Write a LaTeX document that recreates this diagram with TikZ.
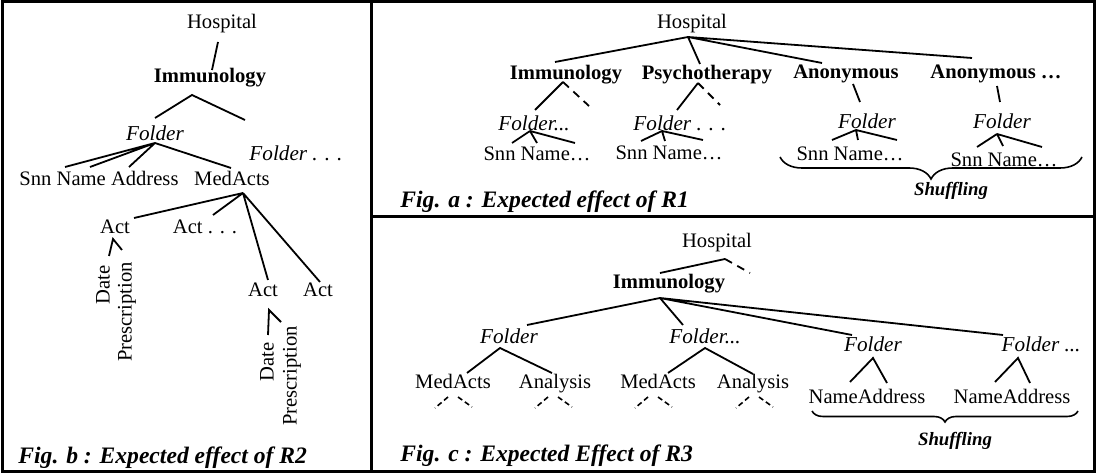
\documentclass[tikz,border=0pt]{standalone}
\usepackage{fontspec}
\setmainfont{Liberation Serif}
\usetikzlibrary{decorations.pathreplacing}
\begin{document}
\begin{tikzpicture}[x=0.5pt,y=-0.5pt,
  every node/.style={font=\fontsize{10.3}{12}\selectfont, inner sep=0pt, anchor=base},
  bld/.style={font=\fontsize{10.3}{12}\selectfont\bfseries},
  itl/.style={font=\fontsize{10.6}{12}\selectfont\itshape},
  figcap/.style={font=\fontsize{11.8}{14}\selectfont\bfseries\itshape, anchor=west},
  shuf/.style={font=\fontsize{9.4}{12}\selectfont\bfseries\itshape},
  edge/.style={line width=0.9pt},
  dedge/.style={line width=0.9pt, dash pattern=on 4pt off 3pt},
  tick/.style={line width=0.8pt, dash pattern=on 2.6pt off 1.6pt},
  frame/.style={line width=1.5pt},
  brc/.style={line width=0.8pt, decorate, decoration={brace, mirror, amplitude=#1}},
  vtext/.style={rotate=90, anchor=center}
]
\useasboundingbox (0,0) rectangle (1096,474);
% frames
\draw[frame] (2,2) rectangle (1094,472);
\coordinate (vt) at (371,2); \coordinate (vb) at (371,472);
\draw[frame] (vt) -- (vb);
\coordinate (hl) at (371,217); \coordinate (hr) at (1094,217);
\draw[frame] (hl) -- (hr);

% ================= Fig. b =================
\node (hb) at (222,29) {Hospital};
\node[bld] (ib) at (210,83) {Immunology};
\node[itl] (fb) at (155,141) {Folder};
\node[itl] (fdb) at (296,161) {Folder . . .};
\node (snb) at (99,186) {Snn Name Address};
\node (mab) at (232,186) {MedActs};
\node (a1) at (115,234) {Act};
\node (a2) at (205,234) {Act . . .};
\node (a3) at (263,297) {Act};
\node (a4) at (318,297) {Act};
\node[vtext] (d1) at (103,285) {Date};
\node[vtext] (p1) at (127,312) {Prescription};
\node[vtext] (d2) at (267,362) {Date};
\node[vtext] (p2) at (292,376) {Prescription};
\node[figcap] (capb) at (18,458) {Fig. b : Expected effect of R2};

\coordinate (hbB) at (218,42); \coordinate (ibT) at (212,70);
\draw[edge] (hbB) -- (ibT);
\coordinate (ibA) at (192,95); \coordinate (ibL) at (155,118); \coordinate (ibR) at (245,120);
\draw[edge] (ibL) -- (ibA) -- (ibR);
\coordinate (fbA) at (155,143);
\coordinate (fbE1) at (65,167); \coordinate (fbE2) at (90,167);
\coordinate (fbE3) at (129,167); \coordinate (fbE4) at (231,168);
\draw[edge] (fbA) -- (fbE1) (fbA) -- (fbE2) (fbA) -- (fbE3) (fbA) -- (fbE4);
\coordinate (maA) at (243,193);
\coordinate (maE1) at (134,218); \coordinate (maE2) at (213,215);
\coordinate (maE3) at (268,280); \coordinate (maE4) at (320,282);
\draw[edge] (maA) -- (maE1) (maA) -- (maE2) (maA) -- (maE3) (maA) -- (maE4);
\coordinate (c1a) at (109,256); \coordinate (c1b) at (113,239); \coordinate (c1c) at (122,250);
\draw[edge] (c1a) -- (c1b) -- (c1c);
\coordinate (c2a) at (268,335); \coordinate (c2b) at (269,310); \coordinate (c2c) at (281,322);
\draw[edge] (c2a) -- (c2b) -- (c2c);

% ================= Fig. a =================
\node (ha) at (692,29) {Hospital};
\node[bld] (ia1) at (566,80) {Immunology};
\node[bld] (ps) at (707,80) {Psychotherapy};
\node[bld] (an1) at (846,79) {Anonymous};
\node[bld] (an2) at (996,79) {Anonymous …};
\node[itl] (fa1) at (534,131) {Folder...};
\node[itl] (fa2) at (680,131) {Folder . . .};
\node[itl] (fa3) at (867,129) {Folder};
\node[itl] (fa4) at (1002,129) {Folder};
\node (sa1) at (537,161) {Snn Name…};
\node (sa2) at (669,160) {Snn Name…};
\node (sa3) at (850,161) {Snn Name…};
\node (sa4) at (1004,167) {Snn Name…};
\node[shuf] (sh1) at (951,196) {Shuffling};
\node[figcap] (capa) at (400,202) {Fig. a : Expected effect of R1};

\coordinate (haA) at (688,37);
\coordinate (haE1) at (555,62); \coordinate (haE2) at (700,64);
\coordinate (haE3) at (822,63); \coordinate (haE4) at (972,58);
\draw[edge] (haA) -- (haE1) (haA) -- (haE2) (haA) -- (haE3) (haA) -- (haE4);
\coordinate (iaA) at (563,82); \coordinate (iaL) at (535,110); \coordinate (iaR) at (589,106);
\draw[edge] (iaA) -- (iaL); \draw[dedge] (iaA) -- (iaR);
\coordinate (psA) at (698,83); \coordinate (psL) at (677,110); \coordinate (psR) at (720,105);
\draw[edge] (psA) -- (psL); \draw[dedge] (psA) -- (psR);
\coordinate (fa1A) at (530,131);
\coordinate (fa1E1) at (512,143); \coordinate (fa1E2) at (537,143); \coordinate (fa1E3) at (575,143);
\draw[edge] (fa1A) -- (fa1E1) (fa1A) -- (fa1E2) (fa1A) -- (fa1E3);
\coordinate (fa2A) at (662,131);
\coordinate (fa2E1) at (641,141); \coordinate (fa2E2) at (665,141); \coordinate (fa2E3) at (703,140);
\draw[edge] (fa2A) -- (fa2E1) (fa2A) -- (fa2E2) (fa2A) -- (fa2E3);
\coordinate (an1A) at (853,84); \coordinate (an1B) at (860,102);
\draw[edge] (an1A) -- (an1B);
\coordinate (an2A) at (997,86); \coordinate (an2B) at (1000,102);
\draw[edge] (an2A) -- (an2B);
\coordinate (fa3A) at (856,130);
\coordinate (fa3E1) at (832,140); \coordinate (fa3E2) at (858,140); \coordinate (fa3E3) at (897,140);
\draw[edge] (fa3A) -- (fa3E1) (fa3A) -- (fa3E2) (fa3A) -- (fa3E3);
\coordinate (fa4A) at (997,134);
\coordinate (fa4E1) at (977,147); \coordinate (fa4E2) at (1003,146); \coordinate (fa4E3) at (1042,147);
\draw[edge] (fa4A) -- (fa4E1) (fa4A) -- (fa4E2) (fa4A) -- (fa4E3);
\coordinate (b1l) at (780,157); \coordinate (b1r) at (1082,157);
\draw[brc=11pt] (b1l) -- (b1r);

% ================= Fig. c =================
\node (hc) at (717,248) {Hospital};
\node[bld] (ic) at (669,289) {Immunology};
\node[itl] (fc1) at (509,344) {Folder};
\node[itl] (fc2) at (705,344) {Folder...};
\node[itl] (fc3) at (873,352) {Folder};
\node[itl] (fc4) at (1041,352) {Folder ...};
\node (m1) at (453,389) {MedActs};
\node (y1) at (555,389) {Analysis};
\node (m2) at (658,389) {MedActs};
\node (y2) at (753,389) {Analysis};
\node (na1) at (867,404) {NameAddress};
\node (na2) at (1012,404) {NameAddress};
\node[shuf] (sh2) at (955,446) {Shuffling};
\node[figcap] (capc) at (400,456) {Fig. c : Expected Effect of R3};

\coordinate (hcA) at (725,259); \coordinate (hcL) at (660,273); \coordinate (hcR) at (750,273);
\draw[edge] (hcA) -- (hcL); \draw[dedge] (hcA) -- (hcR);
\coordinate (icA) at (660,298);
\coordinate (icE1) at (527,325); \coordinate (icE2) at (683,325);
\coordinate (icE3) at (852,335); \coordinate (icE4) at (1003,335);
\draw[edge] (icA) -- (icE1) (icA) -- (icE2) (icA) -- (icE3) (icA) -- (icE4);
\coordinate (fc1A) at (500,348); \coordinate (fc1L) at (467,373); \coordinate (fc1R) at (552,373);
\draw[edge] (fc1L) -- (fc1A) -- (fc1R);
\coordinate (fc2A) at (705,348); \coordinate (fc2L) at (668,373); \coordinate (fc2R) at (753,374);
\draw[edge] (fc2L) -- (fc2A) -- (fc2R);
\coordinate (fc3A) at (873,358); \coordinate (fc3L) at (850,382); \coordinate (fc3R) at (887,383);
\draw[edge] (fc3L) -- (fc3A) -- (fc3R);
\coordinate (fc4A) at (1018,358); \coordinate (fc4L) at (995,382); \coordinate (fc4R) at (1030,383);
\draw[edge] (fc4L) -- (fc4A) -- (fc4R);
% dashed stubs under MedActs / Analysis
\foreach \n/\c in {m1/453, y1/553, m2/653, y2/754}{
  \coordinate (\n l1) at (\c-5,397); \coordinate (\n l2) at (\c-18,408);
  \coordinate (\n r1) at (\c+5,397); \coordinate (\n r2) at (\c+19,407);
  \draw[tick] (\n l1) -- (\n l2);
  \draw[tick] (\n r1) -- (\n r2);
}
\coordinate (b2l) at (812,411); \coordinate (b2r) at (1078,411);
\draw[brc=5.5pt] (b2l) -- (b2r);
\end{tikzpicture}
\end{document}
